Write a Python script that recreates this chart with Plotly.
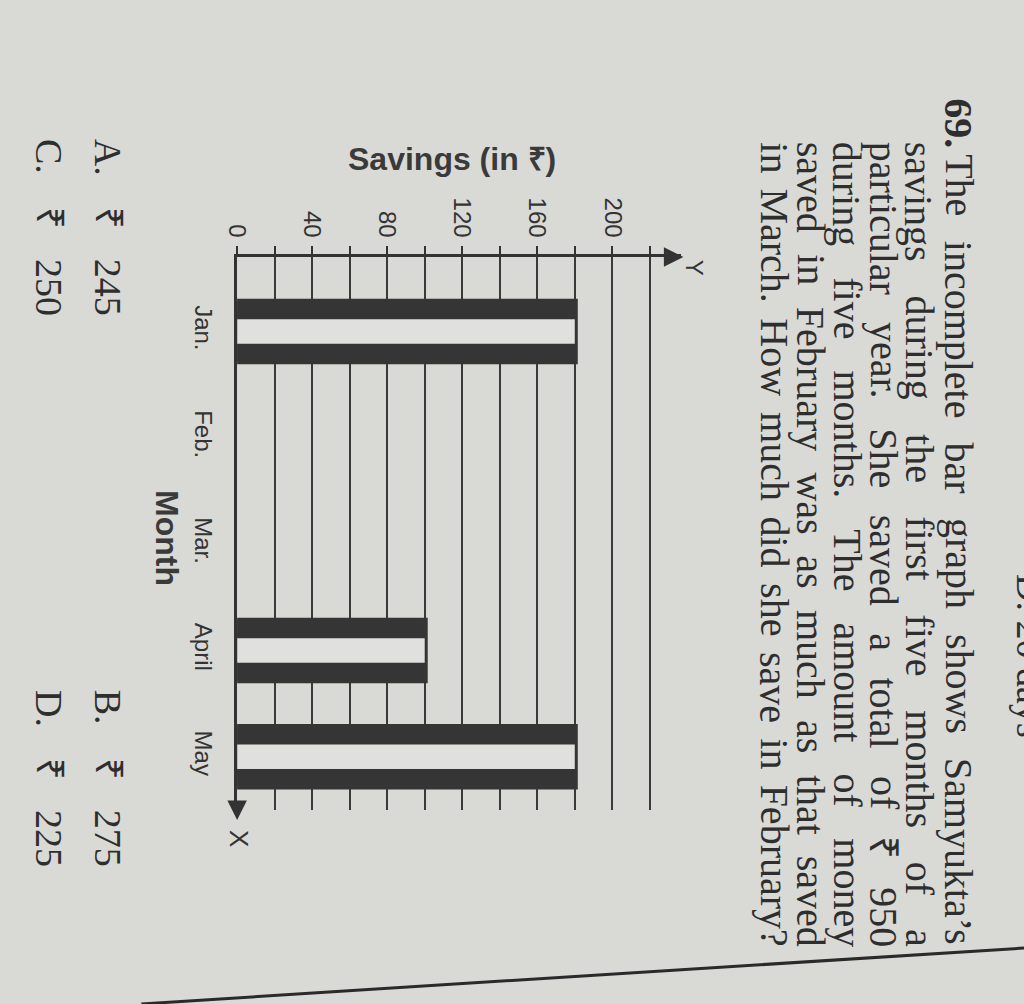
import plotly.graph_objects as go

W, H = 1024, 1004

# chart data (Feb and Mar bars are missing in the incomplete graph)
months = ["Jan.", "Feb.", "Mar.", "April", "May"]
savings = [180, None, None, 100, 180]

question_lines = [
    "The incomplete bar graph shows Samyukta’s",
    "savings during the first five months of a",
    "particular year. She saved a total of ₹ 950",
    "during five months. The amount of money",
    "saved in February was as much as that saved",
    "in March. How much did she save in February?",
]
options = [("A.", "₹", "245"), ("B.", "₹", "275"), ("C.", "₹", "250"), ("D.", "₹", "225")]

INK = "#333333"
TEXT = "#2e2e2e"
PAPER = "#d9d9d6"
SERIF = "Liberation Serif, Times New Roman, serif"
SANS = "Liberation Sans, Arial, sans-serif"

# Times advance widths (1/1000 em), used to spread the justified words of the page
TIMES = dict(zip("abcdefghijklmnopqrstuvwxyz",
                 [444, 500, 444, 500, 444, 333, 500, 500, 278, 278, 500, 278, 778,
                  500, 500, 500, 500, 333, 389, 278, 500, 500, 722, 500, 500, 444]))
TIMES.update(zip("ABCDEFGHIJKLMNOPQRSTUVWXYZ",
                 [722, 667, 667, 722, 611, 556, 722, 722, 333, 389, 722, 611, 889,
                  722, 722, 556, 722, 667, 556, 611, 722, 722, 944, 722, 722, 611]))
TIMES.update({".": 250, ",": 250, "?": 444, "’": 333, "₹": 600})


def word_width(word, size):
    return sum(TIMES.get(c, 500) for c in word) * size / 1000


def px(x):
    return x / W


def py(y):
    return 1 - y / H


fig = go.Figure()

# dark outer bar + light inner band gives the hollow look of the printed bars
fig.add_trace(go.Bar(
    y=months, x=savings, orientation="h", width=0.56,
    marker=dict(color="#353535", line=dict(color="#353535", width=6)),
    showlegend=False, hoverinfo="skip",
))
fig.add_trace(go.Bar(
    y=months, x=savings, orientation="h", width=0.23,
    marker=dict(color="#e0e0de", line=dict(width=0)),
    showlegend=False, hoverinfo="skip",
))

x0, x1 = 227, 677
y_top, y_bot = 257, 810
fig.update_layout(
    width=W, height=H,
    margin=dict(l=0, r=0, t=0, b=0),
    paper_bgcolor=PAPER, plot_bgcolor=PAPER,
    barmode="overlay",
    showlegend=False,
    xaxis=dict(
        domain=[px(x0), px(x1)], range=[0, (x1 - x0) / 1.9],
        side="top", showline=True, linecolor=INK, linewidth=3,
        ticks="outside", ticklen=8, tickwidth=2, tickcolor=INK,
        dtick=40, tickangle=90,
        tickfont=dict(family=SANS, size=24, color=INK),
        showgrid=True, gridcolor="#3a3a3a", gridwidth=2,
        minor=dict(dtick=20, showgrid=True, gridcolor="#3a3a3a", gridwidth=2,
                   ticks="outside", ticklen=8, tickwidth=2, tickcolor=INK),
        zeroline=False, fixedrange=True,
    ),
    yaxis=dict(
        domain=[py(y_bot), py(y_top)],
        type="category", categoryorder="array", categoryarray=months,
        range=[4.5, -0.7],
        showline=True, linecolor=INK, linewidth=3,
        ticks="", tickangle=90, ticklabelstandoff=10,
        tickfont=dict(family=SANS, size=24, color=INK),
        showgrid=False, zeroline=False, fixedrange=True,
    ),
)

ann = []


def rot_text(text, x, y, size, family=SERIF, color=TEXT):
    # text turned a quarter clockwise, top of the text box at y
    return dict(text=text, x=px(x), y=py(y), xref="paper", yref="paper",
                xanchor="center", yanchor="top", textangle=90, showarrow=False,
                font=dict(family=family, size=size, color=color))


# question text: every line justified between the same two page positions
Q_SIZE = 40
line_x = [958, 918, 882, 845, 808, 771]
line_end = 945
ann.append(rot_text("<b>69.</b>", line_x[0], 96, Q_SIZE))
for i, (line, lx) in enumerate(zip(question_lines, line_x)):
    words = line.split()
    start = 152 if i == 0 else 140
    widths = [word_width(w, Q_SIZE) for w in words]
    gap = (line_end - start - sum(widths)) / (len(words) - 1)
    pos = start
    for w, ww in zip(words, widths):
        ann.append(rot_text(w, lx, pos, Q_SIZE))
        pos += ww + gap

# answer options
for (letter, sign, value), (ox, oy) in zip(options, [(97, 137), (97, 688), (37, 137), (37, 688)]):
    ann.append(rot_text(letter, ox, oy, 38))
    ann.append(rot_text(sign, ox, oy + 68, 38))
    ann.append(rot_text(value, ox, oy + 120, 38))

# axis titles (the value title stays horizontal on the turned page)
ann.append(dict(text="<b>Savings (in ₹)</b>", x=px(337), y=py(159), xref="paper", yref="paper",
                xanchor="left", yanchor="middle", showarrow=False,
                font=dict(family=SANS, size=32, color="#3a3a3a")))
ann.append(dict(text="<b>Month</b>", x=px(156), y=py(538), xref="paper", yref="paper",
                xanchor="center", yanchor="middle", textangle=90, showarrow=False,
                font=dict(family=SANS, size=32, color="#3a3a3a")))

# arrow heads at the axis ends and their letters
ann.append(dict(text="", x=px(x1 + 2), y=py(y_top), ax=-20, ay=0, xref="paper", yref="paper",
                showarrow=True, arrowhead=2, arrowsize=1.3, arrowwidth=3, arrowcolor=INK,
                standoff=0))
ann.append(dict(text="", x=px(x0), y=py(y_bot + 10), ax=0, ay=-20, xref="paper", yref="paper",
                showarrow=True, arrowhead=2, arrowsize=1.3, arrowwidth=3, arrowcolor=INK,
                standoff=0))
ann.append(dict(text="Y", x=px(691), y=py(268), xref="paper", yref="paper",
                xanchor="center", yanchor="middle", textangle=90, showarrow=False,
                font=dict(family=SANS, size=24, color=INK)))
ann.append(dict(text="X", x=px(229), y=py(838), xref="paper", yref="paper",
                xanchor="center", yanchor="middle", textangle=90, showarrow=False,
                font=dict(family=SANS, size=26, color=INK)))

# fragment of the previous question cut at the page edge
ann.append(rot_text("D. 20 days", 1030, 572, 38))

fig.update_layout(annotations=ann)

# edge of the printed page at the bottom right
fig.add_shape(type="line", xref="paper", yref="paper",
              x0=px(130), y0=py(1004), x1=px(1024), y1=py(948),
              line=dict(color="#2a2a2a", width=3))

fig.write_html("out.html", config={"displayModeBar": False},
               post_script="document.body.style.margin='0';")
